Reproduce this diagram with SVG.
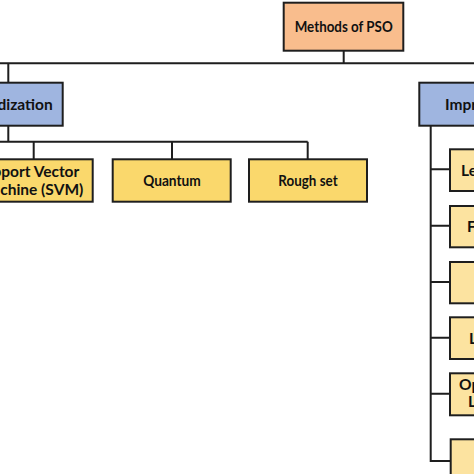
<svg xmlns="http://www.w3.org/2000/svg" width="474" height="474" viewBox="0 0 474 474">
<style>
.box{stroke:#1e1e1e;stroke-width:2}
.root{fill:#F9BD8D}
.cat{fill:#9FB5E0}
.leafA{fill:#FAD86C}
.leafB{fill:#FCE3A0}
.t{font-family:Lato,"Liberation Sans",sans-serif;font-weight:bold;font-size:15.5px;fill:#111}
.c{text-anchor:middle}
.ln{stroke:#1e1e1e;stroke-width:2;fill:none}
</style>
<rect width="474" height="474" fill="#fff"/>
<g id="connectors">
<path class="ln" d="M343.7,50.7V63.3M0,63.3H474M8.3,63.3V82.7"/>
<path class="ln" d="M8.3,125.7V141.7M0,141.7H307.7M33.7,141.7V159.3M172,141.7V159.3M307.7,141.7V159.3"/>
<path class="ln" d="M430.7,125.7V461H450M430.7,169.3H450M430.7,225.7H450M430.7,282H450M430.7,337.7H450M430.7,393.7H450"/>
</g>
<g id="methods"><rect class="box root" x="283.7" y="2.7" width="119.6" height="48"/><text class="t c" x="343.7" y="31.5" textLength="98" lengthAdjust="spacingAndGlyphs">Methods of PSO</text></g>
<g id="hybridization"><rect class="box cat" x="-46" y="82.7" width="108.7" height="43"/><text class="t" x="52.7" y="109.5" text-anchor="end">Hybridization</text></g>
<g id="improvement"><rect class="box cat" x="419.3" y="82.7" width="110" height="43"/><text class="t" x="445" y="109.5">Improvement</text></g>
<g id="svm"><rect class="box leafA" x="-25.3" y="159.3" width="118" height="42.4"/><text class="t" x="79.3" y="177" text-anchor="end">Support Vector</text><text class="t" x="83.3" y="195" text-anchor="end">Machine (SVM)</text></g>
<g id="quantum"><rect class="box leafA" x="112.7" y="159.3" width="118" height="42.4"/><text class="t c" x="172" y="185.5" textLength="57.7" lengthAdjust="spacingAndGlyphs">Quantum</text></g>
<g id="roughset"><rect class="box leafA" x="249" y="159.3" width="118" height="42.4"/><text class="t c" x="308" y="185.5" textLength="59.3" lengthAdjust="spacingAndGlyphs">Rough set</text></g>
<g id="imp1"><rect class="box leafB" x="450" y="149.3" width="60" height="41.7"/><text class="t" x="461" y="175.5">Le</text></g>
<g id="imp2"><rect class="box leafB" x="450" y="206" width="60" height="41.3"/><text class="t" x="467" y="232">F</text></g>
<g id="imp3"><rect class="box leafB" x="450" y="262" width="60" height="41.3"/></g>
<g id="imp4"><rect class="box leafB" x="450" y="317.3" width="60" height="41.7"/><text class="t" x="469" y="343.5">L</text></g>
<g id="imp5"><rect class="box leafB" x="450" y="373.3" width="60" height="42"/><text class="t" x="459" y="389.5">Op</text><text class="t" x="468" y="407">L</text></g>
<g id="imp6"><rect class="box leafB" x="450.7" y="439.3" width="60" height="45"/></g>
</svg>
